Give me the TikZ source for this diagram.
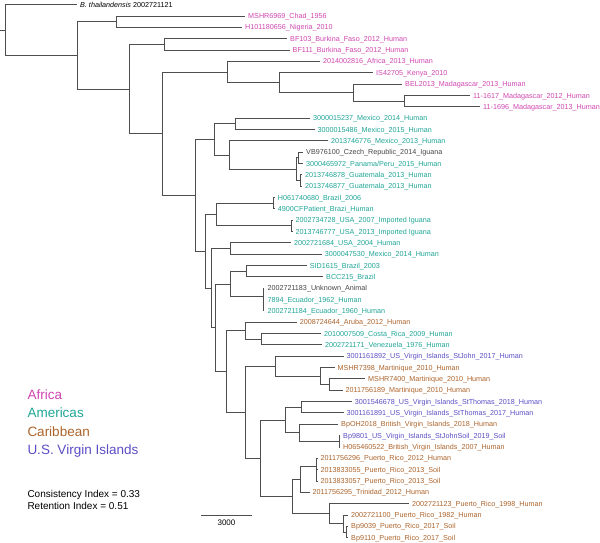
\documentclass[tikz,border=0pt]{standalone}
\usepackage{fontspec}
\setmainfont{Liberation Sans}
\definecolor{afr}{RGB}{208,70,176}
\definecolor{ame}{RGB}{30,165,150}
\definecolor{car}{RGB}{172,100,44}
\definecolor{usv}{RGB}{90,78,196}
\definecolor{oth}{RGB}{70,70,70}
\definecolor{linec}{RGB}{78,78,78}
\begin{document}
\begin{tikzpicture}[x=1pt,y=-1pt,
  br/.style={draw=linec, line width=0.9pt},
  leaf/.style={anchor=west, inner xsep=3pt, inner ysep=0pt, text height=5.2pt, text depth=0pt, font=\fontsize{7.2}{8}\selectfont},
  lA/.style={leaf, text=afr}, lM/.style={leaf, text=ame}, lC/.style={leaf, text=car},
  lU/.style={leaf, text=usv}, lO/.style={leaf, text=oth},
  legend/.style={anchor=base west, inner sep=0pt, font=\fontsize{13.5}{16}\selectfont},
  idx/.style={anchor=base west, inner sep=0pt, font=\fontsize{10}{12}\selectfont, text=black}]
\useasboundingbox (0,0) rectangle (600,543);
% internal nodes
\coordinate (rs) at (0,30.04);
\coordinate (root) at (5.7,30.04);
\coordinate (n1) at (77.3,55.37);
\coordinate (n2) at (116.7,21.71);
\coordinate (n3) at (129,89.04);
\coordinate (n4) at (164,44.39);
\coordinate (n5) at (162.3,133.68);
\coordinate (n6) at (227,72.03);
\coordinate (n7) at (279.3,82.66);
\coordinate (n8) at (353.3,92.585);
\coordinate (n9) at (404.3,101.09);
\coordinate (n10) at (195.7,195.33);
\coordinate (n11) at (214.3,139.36);
\coordinate (n12) at (235.7,123.77);
\coordinate (n13) at (229,154.955);
\coordinate (n14) at (296.7,169.13);
\coordinate (n14a) at (298.5,157.79);
\coordinate (n14b) at (300.2,180.47);
\coordinate (n15) at (205.7,251.3);
\coordinate (n16) at (216.7,214.49);
\coordinate (p1) at (273.3,203.15);
\coordinate (p2) at (291.7,225.83);
\coordinate (n17) at (211,288.1);
\coordinate (n18) at (230.7,248.51);
\coordinate (n21) at (215,327.72);
\coordinate (n20) at (230,283.95);
\coordinate (n19) at (246.7,271.19);
\coordinate (t1) at (263.3,296.7);
\coordinate (t1i) at (263.3,305.21);
\coordinate (n22) at (226,371.48);
\coordinate (n23) at (245.7,330.73);
\coordinate (n24) at (261,339.23);
\coordinate (n25) at (245.7,412.23);
\coordinate (n26) at (275.7,366.16);
\coordinate (n27) at (320,376.09);
\coordinate (n28) at (329.3,384.59);
\coordinate (n29) at (260,458.3);
\coordinate (n30) at (285,420.03);
\coordinate (n32) at (301,407.27);
\coordinate (n33) at (299.3,432.79);
\coordinate (n34) at (339.3,441.29);
\coordinate (n31) at (292.7,496.57);
\coordinate (n35) at (300,479.56);
\coordinate (n36) at (316.7,466.8);
\coordinate (n36i) at (316.7,475.31);
\coordinate (nA) at (329.3,513.58);
\coordinate (nB) at (343.3,523.5);
\coordinate (nC) at (346.7,532.01);
% leaves
\node[leaf, text=black] (l1) at (77,4.7) {\textit{B. thailandensis} 2002721121};
\node[lA] (l2) at (245,16.04) {MSHR6969\_Chad\_1956};
\node[lA] (l3) at (242,27.38) {H101180656\_Nigeria\_2010};
\node[lA] (l4) at (287,38.72) {BF103\_Burkina\_Faso\_2012\_Human};
\node[lA] (l5) at (289.5,50.06) {BF111\_Burkina\_Faso\_2012\_Human};
\node[lA] (l6) at (320,61.4) {2014002816\_Africa\_2013\_Human};
\node[lA] (l7) at (373,72.74) {IS42705\_Kenya\_2010};
\node[lA] (l8) at (402,84.08) {BEL2013\_Madagascar\_2013\_Human};
\node[lA] (l9) at (470,95.42) {11-1617\_Madagascar\_2012\_Human};
\node[lA] (l10) at (480,106.76) {11-1696\_Madagascar\_2013\_Human};
\node[lM] (l11) at (310,118.1) {3000015237\_Mexico\_2014\_Human};
\node[lM] (l12) at (314.5,129.44) {3000015486\_Mexico\_2015\_Human};
\node[lM] (l13) at (328,140.78) {2013746776\_Mexico\_2013\_Human};
\node[lO] (l14) at (303,152.12) {VB976100\_Czech\_Republic\_2014\_Iguana};
\node[lM] (l15) at (303,163.46) {3000465972\_Panama/Peru\_2015\_Human};
\node[lM] (l16) at (302,174.8) {2013746878\_Guatemala\_2013\_Human};
\node[lM] (l17) at (302,186.14) {2013746877\_Guatemala\_2013\_Human};
\node[lM] (l18) at (274.7,197.48) {H061740680\_Brazil\_2006};
\node[lM] (l19) at (274.7,208.82) {4900CFPatient\_Brazi\_Human};
\node[lM] (l20) at (292.5,220.16) {2002734728\_USA\_2007\_Imported Iguana};
\node[lM] (l21) at (292.5,231.5) {2013746777\_USA\_2013\_Imported Iguana};
\node[lM] (l22) at (291,242.84) {2002721684\_USA\_2004\_Human};
\node[lM] (l23) at (321.7,254.18) {3000047530\_Mexico\_2014\_Human};
\node[lM] (l24) at (306.7,265.52) {SID1615\_Brazil\_2003};
\node[lM] (l25) at (323,276.86) {BCC215\_Brazil};
\node[lO] (l26) at (264.3,288.2) {2002721183\_Unknown\_Animal};
\node[lM] (l27) at (264.3,299.54) {7894\_Ecuador\_1962\_Human};
\node[lM] (l28) at (264.3,310.88) {2002721184\_Ecuador\_1960\_Human};
\node[lC] (l29) at (296.7,322.22) {2008724644\_Aruba\_2012\_Human};
\node[lM] (l30) at (321,333.56) {2010007509\_Costa\_Rica\_2009\_Human};
\node[lM] (l31) at (322,344.9) {2002721171\_Venezuela\_1976\_Human};
\node[lU] (l32) at (343.5,356.24) {3001161892\_US\_Virgin\_Islands\_StJohn\_2017\_Human};
\node[lC] (l33) at (334.5,367.58) {MSHR7398\_Martinique\_2010\_Human};
\node[lC] (l34) at (365,378.92) {MSHR7400\_Martinique\_2010\_Human};
\node[lC] (l35) at (342.5,390.26) {2011756189\_Martinique\_2010\_Human};
\node[lU] (l36) at (351.7,401.6) {3001546678\_US\_Virgin\_Islands\_StThomas\_2018\_Human};
\node[lU] (l37) at (343.5,412.94) {3001161891\_US\_Virgin\_Islands\_StThomas\_2017\_Human};
\node[lC] (l38) at (338,424.28) {BpOH2018\_British\_Virgin\_Islands\_2018\_Human};
\node[lU] (l39) at (340,435.62) {Bp9801\_US\_Virgin\_Islands\_StJohnSoil\_2019\_Soil};
\node[lC] (l40) at (340,446.96) {H065460522\_British\_Virgin\_Islands\_2007\_Human};
\node[lC] (l41) at (317.5,458.3) {2011756296\_Puerto\_Rico\_2012\_Human};
\node[lC] (l42) at (317.5,469.64) {2013833055\_Puerto\_Rico\_2013\_Soil};
\node[lC] (l43) at (317.5,480.98) {2013833057\_Puerto\_Rico\_2013\_Soil};
\node[lC] (l44) at (309.5,492.32) {2011756295\_Trinidad\_2012\_Human};
\node[lC] (l45) at (409,503.66) {2002721123\_Puerto\_Rico\_1998\_Human};
\node[lC] (l46) at (348,515.0) {2002721100\_Puerto\_Rico\_1982\_Human};
\node[lC] (l47) at (348,526.34) {Bp9039\_Puerto\_Rico\_2017\_Soil};
\node[lC] (l48) at (348,537.68) {Bp9110\_Puerto\_Rico\_2017\_Soil};
% branches
\draw[br] (rs) -- (root);
\draw[br] (root) |- (l1.west); \draw[br] (root) |- (n1);
\draw[br] (n1) |- (n2); \draw[br] (n1) |- (n3);
\draw[br] (n2) |- (l2.west); \draw[br] (n2) |- (l3.west);
\draw[br] (n3) |- (n4); \draw[br] (n3) |- (n5);
\draw[br] (n4) |- (l4.west); \draw[br] (n4) |- (l5.west);
\draw[br] (n5) |- (n6); \draw[br] (n5) |- (n10);
\draw[br] (n6) |- (l6.west); \draw[br] (n6) |- (n7);
\draw[br] (n7) |- (l7.west); \draw[br] (n7) |- (n8);
\draw[br] (n8) |- (l8.west); \draw[br] (n8) |- (n9);
\draw[br] (n9) |- (l9.west); \draw[br] (n9) |- (l10.west);
\draw[br] (n10) |- (n11); \draw[br] (n10) |- (n15);
\draw[br] (n11) |- (n12); \draw[br] (n11) |- (n13);
\draw[br] (n12) |- (l11.west); \draw[br] (n12) |- (l12.west);
\draw[br] (n13) |- (l13.west); \draw[br] (n13) |- (n14);
\draw[br] (n14) |- (n14a); \draw[br] (n14) |- (n14b);
\draw[br] (n14a) |- (l14.west); \draw[br] (n14a) |- (l15.west);
\draw[br] (n14b) |- (l16.west); \draw[br] (n14b) |- (l17.west);
\draw[br] (n15) |- (n16); \draw[br] (n15) |- (n17);
\draw[br] (n16) |- (p1); \draw[br] (n16) |- (p2);
\draw[br] (p1) |- (l18.west); \draw[br] (p1) |- (l19.west);
\draw[br] (p2) |- (l20.west); \draw[br] (p2) |- (l21.west);
\draw[br] (n17) |- (n18); \draw[br] (n17) |- (n21);
\draw[br] (n18) |- (l22.west); \draw[br] (n18) |- (l23.west);
\draw[br] (n21) |- (n20); \draw[br] (n21) |- (n22);
\draw[br] (n20) |- (n19); \draw[br] (n20) |- (t1);
\draw[br] (n19) |- (l24.west); \draw[br] (n19) |- (l25.west);
\draw[br] (t1) |- (l26.west); \draw[br] (t1) |- (t1i);
\draw[br] (t1i) |- (l27.west); \draw[br] (t1i) |- (l28.west);
\draw[br] (n22) |- (n23); \draw[br] (n22) |- (n25);
\draw[br] (n23) |- (l29.west); \draw[br] (n23) |- (n24);
\draw[br] (n24) |- (l30.west); \draw[br] (n24) |- (l31.west);
\draw[br] (n25) |- (n26); \draw[br] (n25) |- (n29);
\draw[br] (n26) |- (l32.west); \draw[br] (n26) |- (n27);
\draw[br] (n27) |- (l33.west); \draw[br] (n27) |- (n28);
\draw[br] (n28) |- (l34.west); \draw[br] (n28) |- (l35.west);
\draw[br] (n29) |- (n30); \draw[br] (n29) |- (n31);
\draw[br] (n30) |- (n32); \draw[br] (n30) |- (n33);
\draw[br] (n32) |- (l36.west); \draw[br] (n32) |- (l37.west);
\draw[br] (n33) |- (l38.west); \draw[br] (n33) |- (n34);
\draw[br] (n34) |- (l39.west); \draw[br] (n34) |- (l40.west);
\draw[br] (n31) |- (n35); \draw[br] (n31) |- (nA);
\draw[br] (n35) |- (n36); \draw[br] (n35) |- (l44.west);
\draw[br] (n36) |- (l41.west); \draw[br] (n36) |- (n36i);
\draw[br] (n36i) |- (l42.west); \draw[br] (n36i) |- (l43.west);
\draw[br] (nA) |- (l45.west); \draw[br] (nA) |- (nB);
\draw[br] (nB) |- (l46.west); \draw[br] (nB) |- (nC);
\draw[br] (nC) |- (l47.west); \draw[br] (nC) |- (l48.west);
% legend
\node[legend, text=afr] (lgA) at (27.3,399) {Africa};
\node[legend, text=ame] (lgM) at (27.3,417.5) {Americas};
\node[legend, text=car] (lgC) at (27.3,436) {Caribbean};
\node[legend, text=usv] (lgU) at (27.3,454.5) {U.S. Virgin Islands};
\node[idx] (ci) at (27.3,497.5) {Consistency Index = 0.33};
\node[idx] (ri) at (27.3,509.8) {Retention Index = 0.51};
% scale bar
\coordinate (sb1) at (201,515.7);
\coordinate (sb2) at (252.3,515.7);
\draw[br] (sb1) -- (sb2);
\node[anchor=base, inner sep=0pt, font=\fontsize{8}{9}\selectfont] (sbl) at (226.5,525) {3000};
\end{tikzpicture}
\end{document}
